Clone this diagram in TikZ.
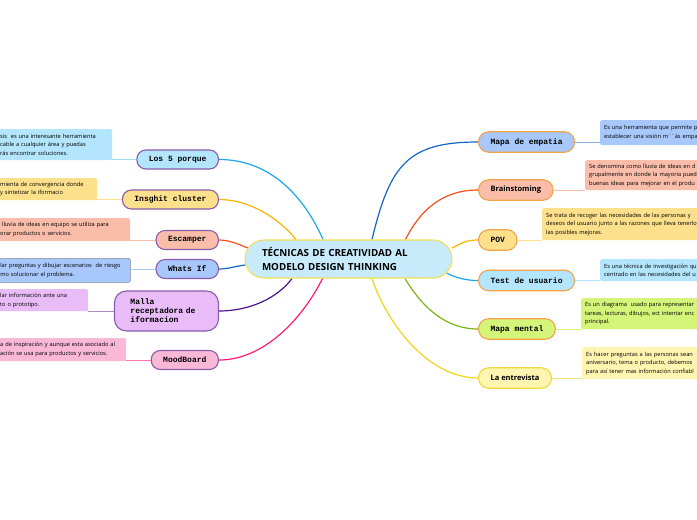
\documentclass[tikz,border=0pt]{standalone}
\usepackage{fontspec}
\setmainfont{Open Sans}
\newfontfamily\monof{Liberation Mono}
\usetikzlibrary{backgrounds,calc}
\definecolor{fLBlue}{HTML}{B3E5FC}
\definecolor{fYel}{HTML}{FDE08C}
\definecolor{fSal}{HTML}{F9BDAA}
\definecolor{fBlue}{HTML}{A8C8FB}
\definecolor{fLil}{HTML}{E9BCF8}
\definecolor{fPink}{HTML}{F8B8D6}
\definecolor{fGreen}{HTML}{D5F47A}
\definecolor{fLYel}{HTML}{FFF4B0}
\definecolor{bPurp}{HTML}{8A5BA8}
\definecolor{bOrange}{HTML}{F4A34A}
\definecolor{bYel}{HTML}{F0D840}
\definecolor{cFill}{HTML}{C8EBFB}
\definecolor{cBord}{HTML}{F3DF55}
\definecolor{lCyan}{HTML}{1BA8E8}
\definecolor{lAmber}{HTML}{FFB300}
\definecolor{lRed}{HTML}{F4511E}
\definecolor{lBlue}{HTML}{1565C8}
\definecolor{lPurp}{HTML}{4A148C}
\definecolor{lPink}{HTML}{FF1A75}
\definecolor{lGreen}{HTML}{7CB518}
\definecolor{lYel}{HTML}{F2D41A}
\definecolor{nGray}{HTML}{7D8A99}
\definecolor{nlCyan}{HTML}{9FDCF6}
\begin{document}
\begin{tikzpicture}[x=1pt,y=-1pt,
  topic/.style={draw, line width=1.1pt, rounded corners=9pt, minimum height=19pt,
    inner xsep=12pt, inner ysep=2pt, font=\monof\bfseries\fontsize{8}{9}\selectfont},
  ltopic/.style={topic, draw=bPurp, anchor=east},
  rtopic/.style={topic, draw=bOrange, anchor=west, minimum height=20.5pt, rounded corners=10pt},
  sanstopic/.style={font=\bfseries\fontsize{7.5}{9}\selectfont},
  note/.style={rounded corners=2pt, inner xsep=4pt, inner ysep=0pt, align=left,
    anchor=north west, font=\fontsize{5.7}{8.6}\selectfont},
  link/.style={line width=1.2pt},
  nlink/.style={line width=0.9pt}]
\clip (0,0) rectangle (697,520);

% central topic
\node[draw=cBord, fill=cFill, line width=1.1pt, rounded corners=19pt, minimum width=207pt,
  minimum height=38pt, text width=173pt, inner xsep=17pt, align=left,
  font=\bfseries\fontsize{9.8}{14}\selectfont] (c) at (348.5,259)
  {TÉCNICAS DE CREATIVIDAD AL\\MODELO DESIGN THINKING};

% left topics
\node[ltopic, fill=fLBlue] (los) at (219,159.5) {Los 5 porque};
\node[ltopic, fill=fYel] (ins) at (219,199.5) {Insghit cluster};
\node[ltopic, fill=fSal] (esc) at (219,240) {Escamper};
\node[ltopic, fill=fBlue] (what) at (219,269) {Whats If};
\node[ltopic, fill=fLil, rounded corners=12pt, text width=72pt, inner xsep=16pt,
  align=left, minimum height=40pt, font=\monof\bfseries\fontsize{8}{9}\selectfont] (malla) at (219,311)
  {Malla\\receptadora de\\iformacion};
\node[ltopic, fill=fPink] (mood) at (219,360) {MoodBoard};

% right topics
\node[rtopic, fill=fBlue] (emp) at (478,142) {Mapa de empatia};
\node[rtopic, fill=fSal, sanstopic] (brain) at (478,190) {Brainstoming};
\node[rtopic, fill=fYel] (pov) at (478,240) {POV};
\node[rtopic, fill=fLBlue] (test) at (478,280.5) {Test de usuario};
\node[rtopic, fill=fGreen] (mm) at (478,329) {Mapa mental};
\node[rtopic, fill=fLYel, draw=bYel, sanstopic] (ent) at (478,378) {La entrevista};

% left notes
\node[note, fill=fLBlue, text width=108pt, minimum height=31pt] (ln1) at (-4,129)
  {sis\ \ es una interesante herramienta\\cable a cualquier área y puedas\\rás encontrar soluciones.};
\node[note, fill=fYel, text width=93pt, minimum height=22pt] (ln2) at (-4,178)
  {mienta de convergencia donde\\y sintetizar la iformacio};
\node[note, fill=fSal, text width=126pt, minimum height=23pt] (ln3) at (-4,218)
  {\ lluvia de ideas en equipo se utiliza para\\orar productos o servicios.};
\node[note, fill=fBlue, draw=nGray, line width=0.6pt, text width=126pt, minimum height=24pt] (ln4) at (-4,258)
  {lar preguntas y dibujar escenarios\ \ de riesgo\\mo solucionar el problema.};
\node[note, fill=fLil, text width=84pt, minimum height=22pt] (ln5) at (-4,289)
  {lar información ante una\\to o prototipo.};
\node[note, fill=fPink, text width=122pt, minimum height=23pt] (ln6) at (-4,338)
  {a de inspiración y aunque esta asociado al\\ación se usa para productos y servicios.};

% right notes
\node[note, fill=fBlue, text width=200pt, minimum height=25pt] (rn1) at (600,120)
  {Es una herramienta que permite p\\establecer una visión m¨¨ás empa};
\node[note, fill=fSal, text width=200pt, minimum height=30pt] (rn2) at (585,160)
  {Se denomina como lluvia de ideas en d\\grupalmente en donde la mayoria pued\\buenas ideas para mejorar en el produ};
\node[note, fill=fYel, text width=200pt, minimum height=32pt] (rn3) at (542,208)
  {Se trata de recoger las necesidades de las personas y\\deseos del usuario junto a las razones que lleva tenerlo\\las posibles mejoras.};
\node[note, fill=fLBlue, text width=200pt, minimum height=22pt] (rn4) at (600,259)
  {Es una técnica de investigación qu\\centrado en las necesidades del u};
\node[note, fill=fGreen, text width=200pt, minimum height=31pt] (rn5) at (581,298)
  {Es un diagrama\ \ usado para representar\\tareas, lecturas, dibujos, ect intentar enc\\principal.};
\node[note, fill=fLYel, text width=200pt, minimum height=32pt] (rn6) at (582,347)
  {Es hacer preguntas a las personas sean\\aniversario, tema o producto, debemos\\para así tener mas información confiabl};

\begin{pgfonlayer}{background}
\fill[white] (0,0) rectangle (697,520);
% main connectors
\draw[link, lCyan] ($(c.north)+(-25.5,0)$) .. controls +(-20,-45) and +(50,0) .. (los.east);
\draw[link, lAmber] ($(c.north)+(-52.5,0)$) .. controls +(-18,-22) and +(30,0) .. (ins.east);
\draw[link, lRed] ($(c.west)+(3.5,-11)$) .. controls +(-10,-4) and +(10,0) .. (esc.east);
\draw[link, lBlue] ($(c.west)+(1,6)$) .. controls +(-10,1) and +(10,0) .. (what.east);
\draw[link, lPurp] ($(c.south)+(-56.5,0)$) .. controls +(-15,20) and +(30,0) .. (malla.east);
\draw[link, lPink] ($(c.south)+(-26,0)$) .. controls +(-20,40) and +(45,0) .. (mood.east);
\draw[link, lBlue] ($(c.north)+(23.5,0)$) .. controls +(18,-75) and +(-70,0) .. (emp.west);
\draw[link, lRed] ($(c.north)+(57,0)$) .. controls +(15,-30) and +(-35,0) .. (brain.west);
\draw[link, lAmber] ($(c.east)+(-0.5,-11)$) .. controls +(10,-5) and +(-12,0) .. (pov.west);
\draw[link, lCyan] ($(c.east)+(-6,14)$) .. controls +(10,5) and +(-12,0) .. (test.west);
\draw[link, lGreen] ($(c.south)+(56.5,0)$) .. controls +(15,25) and +(-35,0) .. (mm.west);
\draw[link, lYel] ($(c.south)+(23.5,0)$) .. controls +(15,45) and +(-50,0) .. (ent.west);
% note connectors
\draw[nlink, nlCyan] (los.west) -- (los.west -| ln1.east);
\draw[nlink, fYel] (ins.west) -- (ins.west -| ln2.east);
\draw[nlink, fSal] (esc.west) -- (esc.west -| ln3.east);
\draw[nlink, fBlue] (what.west) -- (what.west -| ln4.east);
\draw[nlink, bPurp!70] (malla.west) -- (malla.west -| ln5.east);
\draw[nlink, lPink!60] (mood.west) -- (mood.west -| ln6.east);
\draw[nlink, lBlue!50] (emp.east) -- (emp.east -| rn1.west);
\draw[nlink, fSal] (brain.east) -- (brain.east -| rn2.west);
\draw[nlink, fYel] (pov.east) -- (pov.east -| rn3.west);
\draw[nlink, fLBlue] (test.east) -- (test.east -| rn4.west);
\draw[nlink, fGreen] (mm.east) -- (mm.east -| rn5.west);
\draw[nlink, bYel!70] (ent.east) -- (ent.east -| rn6.west);
\end{pgfonlayer}
\end{tikzpicture}
\end{document}
